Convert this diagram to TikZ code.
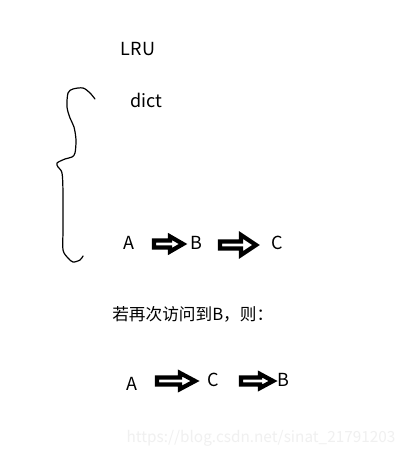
\documentclass[tikz,border=0pt]{standalone}
\usepackage{fontspec}
\setmainfont{Noto Sans CJK SC}
\begin{document}
\begin{tikzpicture}[x=0.75pt,y=-0.75pt,
  lbl/.style={font=\fontsize{13.5}{15}\selectfont, inner sep=0pt, anchor=center},
  cjk/.style={font=\fontsize{12.5}{15}\selectfont, inner sep=0pt, anchor=west},
  blockarrow/.style={draw=black, line width=3.2pt, line join=miter, fill=white},
  curve/.style={draw=black, line width=0.9pt, line join=round, line cap=round},
  wm/.style={font=\fontsize{11.5}{14}\selectfont, text=black!6, inner sep=0pt, anchor=center}]
\useasboundingbox[fill=white] (0,0) rectangle (401,456);
% texts
\node[lbl] (lru) at (138,49) {LRU};
\node[lbl] (dict) at (146,100) {dict};
\node[lbl] (a1) at (129,243) {A};
\node[lbl] (b1) at (196,243) {B};
\node[lbl] (c1) at (277,243) {C};
\node[cjk] (q) at (112,314) {若再次访问到B，则：};
\node[lbl] (a2) at (132,384) {A};
\node[lbl] (c2) at (213,380) {C};
\node[lbl] (b2) at (283,380) {B};
\node[wm] (w) at (261,438) {https://blog.csdn.net/sinat\_21791203};
% hand-drawn brace
\draw[curve] plot[smooth, tension=0.5] coordinates {(95,99) (90,93) (83,88) (73,89) (68,93) (67,107) (70,118) (74,127) (76,140) (75,153) (72,157) (65,159) (57,163) (58,167) (62,173) (63,193) (63,230) (63,250) (68,258) (73,262) (80,260) (83,256)};
% block arrows
\newcommand{\blockarr}[6]{% x0, xh, x1, yc, half shaft, half head
  \draw[blockarrow] (#1,#4-#5) -- (#2,#4-#5) -- (#2,#4-#6) -- (#3,#4) -- (#2,#4+#6) -- (#2,#4+#5) -- (#1,#4+#5) -- cycle;}
\blockarr{154}{170}{183}{244}{3.5}{7.5}
\blockarr{220}{241}{256}{245}{3.5}{10}
\blockarr{157}{180}{195}{381}{3.5}{8}
\blockarr{241}{260}{273}{381}{3.5}{7}
\end{tikzpicture}
\end{document}
